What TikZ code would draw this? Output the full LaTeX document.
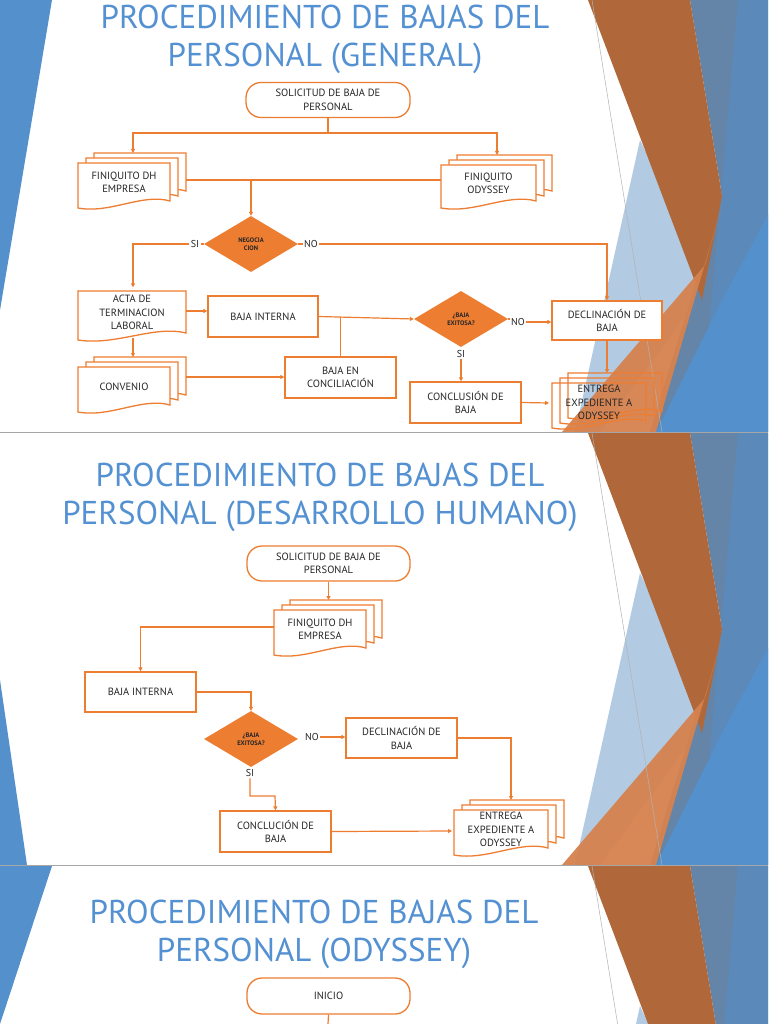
\documentclass[tikz,border=0pt]{standalone}
\usepackage{fontspec}
\setmainfont{PT Sans}
\usetikzlibrary{shapes.geometric,arrows.meta}
\definecolor{org}{RGB}{237,125,49}
\definecolor{ttl}{RGB}{84,145,210}
\definecolor{dorg}{RGB}{176,104,58}
\definecolor{lorg}{RGB}{214,130,78}
\definecolor{bgrey}{RGB}{100,132,168}
\definecolor{bblue}{RGB}{84,144,204}
\definecolor{lblue}{RGB}{178,202,226}
\tikzset{
 x=1pt,y=-1pt,
 ln/.style={draw=org,line width=1.2pt},
 ar/.style={ln,-{Triangle[length=4pt,width=4pt]}},
 box/.style={draw=org,line width=1.3pt,fill=white,inner sep=0pt,align=center,text=black!85,font=\fontsize{10.5}{13.5}\selectfont},
 dec/.style={draw=org,line width=1.3pt,fill=white},
 dia/.style={diamond,fill=org,inner sep=0pt,minimum width=94pt,minimum height=56pt,align=center,text=black!85,font=\bfseries\fontsize{6.5}{8}\selectfont},
 lab/.style={font=\fontsize{10}{11}\selectfont,inner sep=1.5pt,text=black!85},
 title/.style={text=ttl,font=\fontsize{33}{38}\selectfont,align=center}
}
\newcommand\docp[4]{(#1,#2) -- (#1+#3,#2) -- (#1+#3,#2+#4-7) .. controls (#1+0.7*#3,#2+#4-15) and (#1+0.35*#3,#2+#4+6) .. (#1,#2+#4) -- cycle}
\newcommand\mdoc[6]{%
 \draw[dec] \docp{#2+16}{#3-10}{#4}{#5};
 \draw[dec] \docp{#2+8}{#3-5}{#4}{#5};
 \draw[dec] \docp{#2}{#3}{#4}{#5};
 \node[box,draw=none,fill=none,minimum width=#4,minimum height=#5] (#1) at (#2+#4/2,#3+#5/2-3) {#6};}
\newcommand\sdoc[6]{%
 \draw[dec] \docp{#2}{#3}{#4}{#5};
 \node[box,draw=none,fill=none,minimum width=#4,minimum height=#5] (#1) at (#2+#4/2,#3+#5/2-3) {#6};}
\newcommand\deco[1]{%
 \begin{scope}[shift={(0,#1)}]
 \clip (0,0) rectangle (768,432);
 \fill[lblue] (640,140) -- (708,285) -- (600,432) -- (575,432) -- cycle;
 \fill[bgrey] (690,0) -- (768,0) -- (768,432) -- (650,432) -- (722,196) -- cycle;
 \fill[bblue,opacity=.5] (738,0) -- (768,0) -- (768,432) -- (700,432) -- cycle;
 \fill[dorg] (588,0) -- (690,0) -- (722,196) -- (702,300) -- cycle;
 \fill[lorg,opacity=.95] (562,432) -- (656,432) -- (722,205) -- (705,265) -- cycle;
 \fill[bblue] (768,215) -- (768,432) -- (656,432) -- (722,300) -- cycle;
 \draw[gray!60,line width=.5pt] (592,0) -- (662,432);
 \end{scope}}
\begin{document}
\begin{tikzpicture}
\fill[white] (0,0) rectangle (768,1024);
\useasboundingbox (0,0) rectangle (768,1024);
\deco{0}\deco{433}\deco{866}
\fill[bblue] (0,0) -- (52,0) -- (0,310) -- cycle;
\fill[bblue] (0,680) -- (27,865) -- (0,865) -- cycle;
\fill[bblue] (0,866) -- (52,866) -- (0,1024) -- cycle;
\draw[gray!70,line width=.6pt] (0,432.5) -- (768,432.5) (0,865.5) -- (768,865.5);

% ---------- slide 1
\node[title] (t1) at (325,39) {PROCEDIMIENTO DE BAJAS DEL\\PERSONAL (GENERAL)};
\node[box,rounded corners=15pt,minimum width=164pt,minimum height=35pt] (s1) at (328,100) {SOLICITUD DE BAJA DE\\PERSONAL};
\mdoc{fdh}{78}{163}{92}{45}{FINIQUITO DH\\EMPRESA}
\mdoc{fod}{441}{165}{95}{43}{FINIQUITO\\ODYSSEY}
\node[dia] (n1) at (251,244) {NEGOCIA\\CION};
\sdoc{acta}{78}{291}{108}{49}{ACTA DE\\TERMINACION\\LABORAL}
\node[box,minimum width=110pt,minimum height=41pt] (bi1) at (263,316.5) {BAJA INTERNA};
\node[dia] (d1) at (461,319) {¿BAJA\\EXITOSA?};
\node[box,minimum width=110pt,minimum height=39pt] (dc1) at (607,320.5) {DECLINACIÓN DE\\BAJA};
\mdoc{conv}{78}{367}{92}{45}{CONVENIO}
\node[box,minimum width=111pt,minimum height=41pt] (bc) at (340.5,377.5) {BAJA EN\\CONCILIACIÓN};
\node[box,minimum width=111pt,minimum height=41pt] (cb1) at (465.5,402.5) {CONCLUSIÓN DE\\BAJA};
\draw[dec,fill=none] \docp{568}{373}{94}{45};
\draw[dec,fill=none] \docp{560}{378}{94}{45};
\draw[dec,fill=none] \docp{552}{383}{94}{45};
\node[box,draw=none,fill=none,minimum width=94pt,minimum height=45pt] (en1) at (599,402.5) {ENTREGA\\EXPEDIENTE A\\ODYSSEY};
\coordinate (j1) at (328,133);
\draw[ln] (s1.south) -- (j1);
\draw[ar] (j1) -| (133,153);
\draw[ar] (j1) -| (497,155);
\draw[ln] (186,180) -- (441,180);
\draw[ar] (251,180) -- (n1.north);
\node[lab] (si1) at (195,244) {SI};
\node[lab] (no1) at (311,244) {NO};
\draw[ln] (n1.west) -- (si1.east);
\draw[ar] (si1.west) -| (acta.north -| 133,0);
\draw[ln] (n1.east) -- (no1.west);
\draw[ar] (no1.east) -| (dc1.north);
\draw[ar] (186,311) -- (bi1.west |- 0,311);
\draw[ar] (bi1.east) -- (d1.west);
\draw[ln] (bc.north) -- (bc.north |- bi1.east);
\node[lab] (no2) at (518,322) {NO};
\draw[ln] (d1.east) -- (no2.west |- d1.east);
\draw[ar] (no2.east) -- (dc1.west |- no2.east);
\node[lab] (si2) at (461,354) {SI};
\draw[ar] (si2.south) -- (cb1.north -| si2.south);
\draw[ar] (dc1.south) -- (607,373);
\draw[ar] (cb1.east) -- (549,403);
\draw[ar] (acta.south -| 133,0) -- (133,357);
\draw[ar] (186,377) -- (bc.west |- 0,377);

% ---------- slide 2
\node[title] (t2) at (320,497) {PROCEDIMIENTO DE BAJAS DEL\\PERSONAL (DESARROLLO HUMANO)};
\node[box,rounded corners=15pt,minimum width=163pt,minimum height=35pt] (s2) at (328.5,563.5) {SOLICITUD DE BAJA DE\\PERSONAL};
\mdoc{fdh2}{274}{610}{92}{45}{FINIQUITO DH\\EMPRESA}
\node[box,minimum width=111pt,minimum height=40pt] (bi2) at (140.5,692) {BAJA INTERNA};
\node[dia] (d2) at (251,739) {¿BAJA\\EXITOSA?};
\node[box,minimum width=111pt,minimum height=40pt] (dc2) at (401.5,738) {DECLINACIÓN DE\\BAJA};
\node[box,minimum width=111pt,minimum height=41pt] (cb2) at (275.5,831.5) {CONCLUCIÓN DE\\BAJA};
\mdoc{en2}{454}{810}{94}{45}{ENTREGA\\EXPEDIENTE A\\ODYSSEY}
\draw[ar] (s2.south) -- (s2.south |- 0,600);
\draw[ar] (274,627) -| (bi2.north);
\draw[ar] (bi2.east) -| (d2.north);
\node[lab] (no3) at (312,737) {NO};
\draw[ar] (no3.east) -- (dc2.west |- no3.east);
\node[lab] (si3) at (250,773) {SI};
\draw[ar] (si3.south) |- (275,796) -- (cb2.north);
\draw[ar] (dc2.east) -| (511,800);
\draw[ar] (cb2.east) -- (452,831);

% ---------- slide 3
\node[title] (t3) at (314,934) {PROCEDIMIENTO DE BAJAS DEL\\PERSONAL (ODYSSEY)};
\node[box,rounded corners=15pt,minimum width=163pt,minimum height=36pt] (s3) at (328.5,996) {INICIO};
\coordinate (e3) at (328,1024);
\draw[ln] (s3.south) -- (e3);
\end{tikzpicture}
\end{document}
